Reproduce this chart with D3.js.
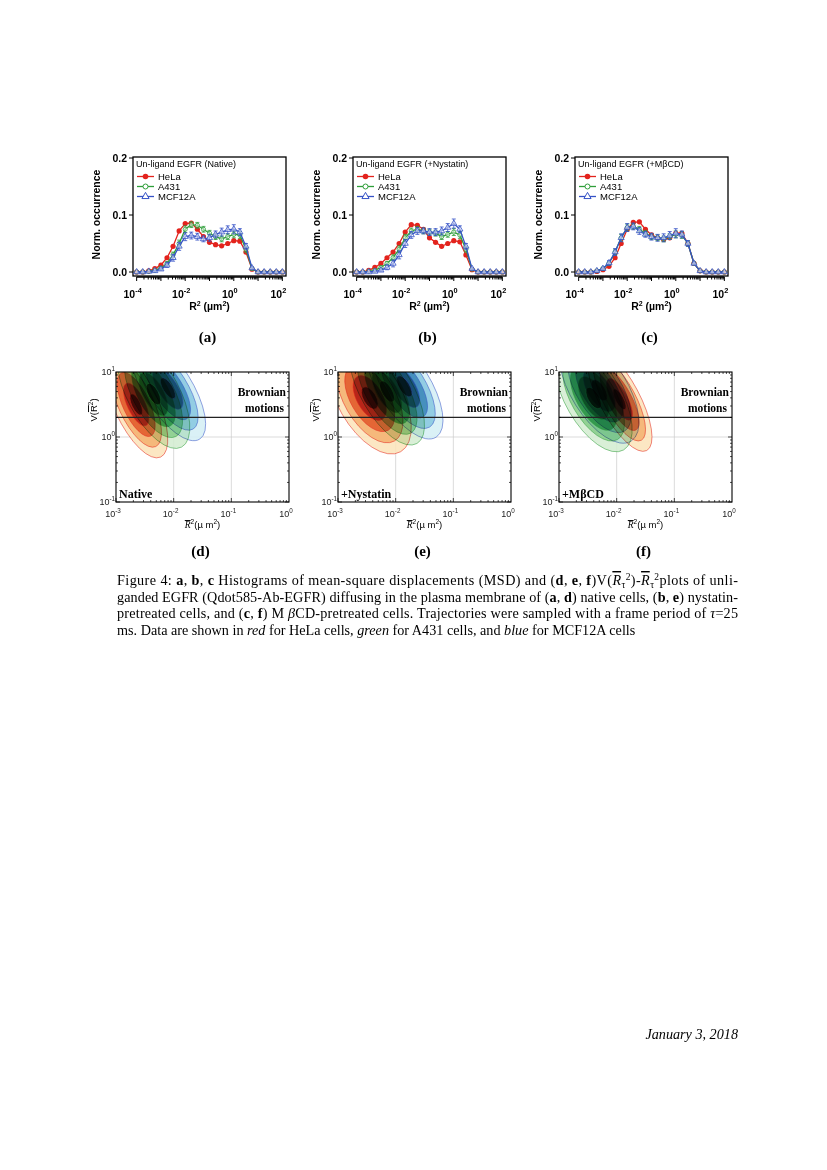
<!DOCTYPE html>
<html><head><meta charset="utf-8">
<script src="https://cdn.jsdelivr.net/npm/d3@7"></script>
<style>body{margin:0;background:#fff}svg{display:block}</style>
</head><body>
<svg id="fig" width="827" height="1170"></svg>
<script>
// histogram bins: log10(R^2) from -4 to 2, step 0.25
var logBins = d3.range(25).map(function (i) { return -4 + i * 0.25; });
var panelTitles = ["Un-ligand EGFR (Native)", "Un-ligand EGFR (+Nystatin)", "Un-ligand EGFR (+M\u03B2CD)"];
var cellLines = ["HeLa", "A431", "MCF12A"];
var helaHist = [
  [0,0,0.002,0.006,0.012,0.025,0.045,0.072,0.085,0.086,0.075,0.062,0.052,0.048,0.046,0.05,0.055,0.054,0.035,0.005,0,0,0,0,0],
  [0,0,0.003,0.008,0.015,0.025,0.035,0.05,0.07,0.083,0.082,0.075,0.06,0.052,0.045,0.05,0.055,0.053,0.03,0.004,0,0,0,0,0],
  [0,0,0,0.001,0.004,0.01,0.025,0.05,0.075,0.087,0.088,0.075,0.065,0.06,0.057,0.06,0.068,0.068,0.05,0.015,0.002,0,0,0,0]];
var a431Hist = [
  [0,0,0.001,0.003,0.007,0.015,0.03,0.05,0.075,0.083,0.082,0.075,0.068,0.062,0.058,0.062,0.066,0.065,0.04,0.006,0,0,0,0,0],
  [0,0,0.001,0.003,0.008,0.015,0.025,0.04,0.06,0.072,0.075,0.072,0.07,0.068,0.062,0.066,0.07,0.065,0.04,0.005,0,0,0,0,0],
  [0,0,0,0.002,0.006,0.015,0.035,0.06,0.078,0.08,0.075,0.068,0.062,0.06,0.058,0.062,0.066,0.065,0.05,0.015,0.002,0,0,0,0]];
var mcfHist = [
  [0,0,0.001,0.002,0.005,0.012,0.025,0.045,0.062,0.064,0.062,0.058,0.06,0.066,0.07,0.074,0.075,0.07,0.045,0.007,0,0,0,0,0],
  [0,0,0,0.001,0.003,0.008,0.015,0.03,0.05,0.065,0.072,0.072,0.07,0.07,0.072,0.078,0.085,0.075,0.045,0.006,0,0,0,0,0],
  [0,0,0,0.002,0.006,0.016,0.035,0.06,0.078,0.08,0.072,0.066,0.062,0.06,0.06,0.064,0.068,0.066,0.05,0.015,0.002,0,0,0,0]];
var errA431 = [0,0,0,0.001,0.002,0.003,0.005,0.006,0.006,0.005,0.005,0.005,0.005,0.005,0.005,0.005,0.006,0.006,0.005,0.002,0,0,0,0,0];
var errMcf  = [0,0,0,0.001,0.002,0.004,0.006,0.007,0.007,0.006,0.006,0.005,0.006,0.006,0.007,0.007,0.008,0.006,0.005,0.002,0,0,0,0,0];
var yTicks = [0, 0.1, 0.2];
var xDecadesTop = [-4, -2, 0, 2];
var histLetters = ["(a)", "(b)", "(c)"];

// density blobs: [log10 mean R^2, log10 V, major px, minor px, angle deg]
var scatterNames = ["Native", "+Nystatin", "+M\u03B2CD"];
var scatterLetters = ["(d)", "(e)", "(f)"];
var helaBlobs = [[-2.65, 0.5, 58, 22, 65], [-2.45, 0.6, 62, 32, 60], [-1.95, 0.58, 58, 20, 62]];
var a431Blobs = [[-2.35, 0.66, 60, 26, 62], [-2.15, 0.7, 60, 26, 60], [-2.4, 0.6, 60, 28, 60]];
var mcfBlobs  = [[-2.1, 0.75, 60, 24, 58], [-1.85, 0.78, 60, 26, 58], [-2.3, 0.72, 60, 28, 58]];
var brownianV = 2;

var colors = { HeLa: "#e3231d", A431: "#2f9e3a", MCF12A: "#3552c6" };
var fills = {
  HeLa: ["#fbe3b8", "#f4b070", "#e2582a", "#b01a14", "#3a0505"],
  A431: ["#d2ecd0", "#86cc8a", "#2e9a48", "#0f5a25", "#041a08"],
  MCF12A: ["#d3eff5", "#86c8e0", "#3a86b8", "#134a7e", "#05152a"]
};
var levelScale = [1, 0.8, 0.6, 0.4, 0.2];

var svg = d3.select("#fig");
var sans = "Liberation Sans, Arial, sans-serif", serif = "Liberation Serif, Times New Roman, serif";

function powLabel(sel, exp, size) {
  sel.append("tspan").text("10");
  sel.append("tspan").attr("font-size", size * 0.7).attr("dy", -size * 0.45).text(exp);
}

////////////// Top histograms //////////////
var topX = [133, 353, 575], topW = 153, topY0 = 157, topY1 = 272;
topX.forEach(function (px, p) {
  var g = svg.append("g");
  var x = d3.scaleLinear().domain([-4.15, 2.15]).range([px, px + topW]);
  var y = d3.scaleLinear().domain([0, 0.2]).range([topY1, topY0 + 1]);
  g.append("rect").attr("x", px).attr("y", topY0).attr("width", topW).attr("height", topY1 + 4 - topY0)
    .attr("fill", "none").attr("stroke", "#000").attr("stroke-width", 1.3);
  var xa = topY1 + 5;
  g.append("line").attr("x1", x(-4)).attr("x2", x(2)).attr("y1", xa).attr("y2", xa).attr("stroke", "#000").attr("stroke-width", 1.3);
  d3.range(-4, 2).forEach(function (d) {
    d3.range(1, 10).forEach(function (m) {
      var lx = x(d + Math.log10(m));
      g.append("line").attr("x1", lx).attr("x2", lx).attr("y1", xa).attr("y2", xa + (m === 1 ? 4 : 2.5)).attr("stroke", "#000");
    });
  });
  g.append("line").attr("x1", x(2)).attr("x2", x(2)).attr("y1", xa).attr("y2", xa + 4).attr("stroke", "#000");
  xDecadesTop.forEach(function (d) {
    var t = g.append("text").attr("x", x(d) - 4).attr("y", xa + 21).attr("text-anchor", "middle")
      .attr("font-family", sans).attr("font-weight", "bold").attr("font-size", 10.5);
    powLabel(t, d, 10.5);
  });
  var xl = g.append("text").attr("x", px + topW / 2).attr("y", 310).attr("text-anchor", "middle")
    .attr("font-family", sans).attr("font-weight", "bold").attr("font-size", 10.5);
  xl.append("tspan").text("R");
  xl.append("tspan").attr("font-size", 7).attr("dy", -4).text("2");
  xl.append("tspan").attr("dy", 4).text(" (\u00B5m");
  xl.append("tspan").attr("font-size", 7).attr("dy", -4).text("2");
  xl.append("tspan").attr("dy", 4).text(")");
  yTicks.forEach(function (v) {
    g.append("line").attr("x1", px - 4).attr("x2", px).attr("y1", y(v)).attr("y2", y(v)).attr("stroke", "#000");
    g.append("text").attr("x", px - 6).attr("y", y(v) + 3.5).attr("text-anchor", "end")
      .attr("font-family", sans).attr("font-weight", "bold").attr("font-size", 10.5).text(v.toFixed(1));
  });
  g.append("text").attr("transform", "translate(" + (px - 33) + "," + ((topY0 + topY1) / 2) + ") rotate(-90)")
    .attr("text-anchor", "middle").attr("font-family", sans).attr("font-weight", "bold").attr("font-size", 10.5)
    .text("Norm. occurrence");

  var series = [
    { name: "HeLa", vals: helaHist[p], err: null },
    { name: "A431", vals: a431Hist[p], err: errA431 },
    { name: "MCF12A", vals: mcfHist[p], err: errMcf }
  ];
  var line = d3.line().x(function (d, i) { return x(logBins[i]); }).y(function (d) { return y(d); });
  series.forEach(function (s) {
    var c = colors[s.name];
    g.append("path").attr("d", line(s.vals)).attr("fill", "none").attr("stroke", c).attr("stroke-width", 1.3);
    if (s.err) s.vals.forEach(function (v, i) {
      var e = s.err[i]; if (!e) return;
      var cx = x(logBins[i]);
      g.append("path").attr("d", "M" + cx + "," + y(v - e) + "V" + y(v + e) + "M" + (cx - 2) + "," + y(v + e) + "h4M" + (cx - 2) + "," + y(v - e) + "h4")
        .attr("stroke", c).attr("stroke-width", 0.8).attr("fill", "none");
    });
    s.vals.forEach(function (v, i) {
      var cx = x(logBins[i]), cy = y(v);
      if (s.name === "HeLa") g.append("circle").attr("cx", cx).attr("cy", cy).attr("r", 2.6).attr("fill", c);
      else if (s.name === "A431") g.append("circle").attr("cx", cx).attr("cy", cy).attr("r", 2.1).attr("fill", "#fff").attr("fill-opacity", 0.5).attr("stroke", c).attr("stroke-width", 0.8);
      else g.append("path").attr("d", d3.symbol(d3.symbolTriangle, 16)()).attr("transform", "translate(" + cx + "," + cy + ")")
        .attr("fill", "#fff").attr("fill-opacity", 0.5).attr("stroke", c).attr("stroke-width", 0.8);
    });
  });
  // legend
  g.append("text").attr("x", px + 3).attr("y", topY0 + 10).attr("font-family", sans).attr("font-size", 9).text(panelTitles[p]);
  cellLines.forEach(function (n, i) {
    var ly = topY0 + 19.5 + i * 10, c = colors[n];
    g.append("line").attr("x1", px + 4).attr("x2", px + 21).attr("y1", ly).attr("y2", ly).attr("stroke", c).attr("stroke-width", 1.3);
    if (i === 0) g.append("circle").attr("cx", px + 12.5).attr("cy", ly).attr("r", 2.8).attr("fill", c);
    else if (i === 1) g.append("circle").attr("cx", px + 12.5).attr("cy", ly).attr("r", 2.5).attr("fill", "#fff").attr("stroke", c);
    else g.append("path").attr("d", d3.symbol(d3.symbolTriangle, 22)()).attr("transform", "translate(" + (px + 12.5) + "," + ly + ")").attr("fill", "#fff").attr("stroke", c);
    g.append("text").attr("x", px + 25).attr("y", ly + 3.3).attr("font-family", sans).attr("font-size", 9.5).text(n);
  });
  g.append("text").attr("x", px + topW / 2 - 2).attr("y", 342).attr("text-anchor", "middle")
    .attr("font-family", serif).attr("font-weight", "bold").attr("font-size", 15).text(histLetters[p]);
});

////////////// Bottom density plots //////////////
var botX = [116, 338, 559], botW = 173, botY0 = 372, botY1 = 502;
var defs = svg.append("defs");
botX.forEach(function (px, p) {
  var g = svg.append("g");
  var x = d3.scaleLinear().domain([-3, 0]).range([px, px + botW]);
  var y = d3.scaleLinear().domain([-1, 1]).range([botY1, botY0]);
  defs.append("clipPath").attr("id", "clip" + p).append("rect")
    .attr("x", px).attr("y", botY0).attr("width", botW).attr("height", botY1 - botY0);
  [-2, -1].forEach(function (d) {
    g.append("line").attr("x1", x(d)).attr("x2", x(d)).attr("y1", botY0).attr("y2", botY1).attr("stroke", "#ccc").attr("stroke-width", 0.7);
  });
  g.append("line").attr("x1", px).attr("x2", px + botW).attr("y1", y(0)).attr("y2", y(0)).attr("stroke", "#ccc").attr("stroke-width", 0.7);

  var blobs = g.append("g").attr("clip-path", "url(#clip" + p + ")").style("isolation", "isolate");
  [["HeLa", helaBlobs[p]], ["A431", a431Blobs[p]], ["MCF12A", mcfBlobs[p]]].forEach(function (b) {
    var name = b[0], bl = b[1];
    var bg = blobs.append("g").style("mix-blend-mode", "multiply")
      .attr("transform", "translate(" + x(bl[0]) + "," + y(bl[1]) + ") rotate(" + bl[4] + ")");
    levelScale.forEach(function (s, li) {
      bg.append("ellipse").attr("rx", bl[2] * s).attr("ry", bl[3] * s)
        .attr("fill", fills[name][li]).attr("fill-opacity", 0.85)
        .attr("stroke", colors[name]).attr("stroke-width", 0.6).attr("stroke-opacity", 0.8);
    });
  });

  g.append("line").attr("x1", px).attr("x2", px + botW).attr("y1", y(Math.log10(brownianV))).attr("y2", y(Math.log10(brownianV)))
    .attr("stroke", "#222").attr("stroke-width", 1.2);
  g.append("text").attr("x", px + botW - 3).attr("y", 396).attr("text-anchor", "end").attr("font-family", serif)
    .attr("font-weight", "bold").attr("font-size", 11.5).text("Brownian");
  g.append("text").attr("x", px + botW - 5).attr("y", 412).attr("text-anchor", "end").attr("font-family", serif)
    .attr("font-weight", "bold").attr("font-size", 11.5).text("motions");
  g.append("text").attr("x", px + 3).attr("y", botY1 - 4).attr("font-family", serif)
    .attr("font-weight", "bold").attr("font-size", 12).text(scatterNames[p]);

  g.append("rect").attr("x", px).attr("y", botY0).attr("width", botW).attr("height", botY1 - botY0)
    .attr("fill", "none").attr("stroke", "#000").attr("stroke-width", 1.1);
  d3.range(-3, 0).forEach(function (d) {
    d3.range(1, 10).forEach(function (m) {
      var lx = x(d + Math.log10(m)), len = m === 1 ? 4 : 2;
      g.append("line").attr("x1", lx).attr("x2", lx).attr("y1", botY0).attr("y2", botY0 + len).attr("stroke", "#000").attr("stroke-width", 0.7);
      g.append("line").attr("x1", lx).attr("x2", lx).attr("y1", botY1).attr("y2", botY1 - len).attr("stroke", "#000").attr("stroke-width", 0.7);
    });
  });
  d3.range(-1, 1).forEach(function (d) {
    d3.range(1, 10).forEach(function (m) {
      var ly = y(d + Math.log10(m)), len = m === 1 ? 4 : 2;
      g.append("line").attr("x1", px + botW).attr("x2", px + botW - len).attr("y1", ly).attr("y2", ly).attr("stroke", "#000").attr("stroke-width", 0.7);
      g.append("line").attr("x1", px).attr("x2", px + len).attr("y1", ly).attr("y2", ly).attr("stroke", "#000").attr("stroke-width", 0.7);
    });
  });
  [-3, -2, -1, 0].forEach(function (d) {
    var t = g.append("text").attr("x", x(d) - 3).attr("y", botY1 + 15).attr("text-anchor", "middle")
      .attr("font-family", sans).attr("font-size", 9).attr("fill", "#222");
    powLabel(t, d, 9);
  });
  [-1, 0, 1].forEach(function (d) {
    var t = g.append("text").attr("x", px - 1).attr("y", y(d) + 3).attr("text-anchor", "end")
      .attr("font-family", sans).attr("font-size", 9).attr("fill", "#222");
    powLabel(t, d, 9);
  });
  var yl = g.append("text").attr("transform", "translate(" + (px - 19) + "," + (botY0 + 38) + ") rotate(-90)")
    .attr("text-anchor", "middle").attr("font-family", sans).attr("font-size", 9.5);
  yl.append("tspan").text("V(");
  yl.append("tspan").style("text-decoration", "overline").text("R");
  yl.append("tspan").attr("font-size", 6.5).attr("dy", -4).text("2");
  yl.append("tspan").attr("dy", 4).text(")");
  var xl = g.append("text").attr("x", px + botW / 2).attr("y", botY1 + 26).attr("text-anchor", "middle")
    .attr("font-family", sans).attr("font-size", 9.5);
  xl.append("tspan").attr("font-family", serif).attr("font-style", "italic").style("text-decoration", "overline").text("R");
  xl.append("tspan").attr("font-size", 6.5).attr("dy", -4).text("2");
  xl.append("tspan").attr("dy", 4).text("(\u00B5 m");
  xl.append("tspan").attr("font-size", 6.5).attr("dy", -4).text("2");
  xl.append("tspan").attr("dy", 4).text(")");
  g.append("text").attr("x", px + botW / 2 - 2).attr("y", 556).attr("text-anchor", "middle")
    .attr("font-family", serif).attr("font-weight", "bold").attr("font-size", 15).text(scatterLetters[p]);
});

////////////// Caption //////////////
var B = "b", I = "i", S = "sub", P = "sup";
var captionLines = [
  [["Figure 4: "], ["a", B], [", "], ["b", B], [", "], ["c", B], [" Histograms of mean-square displacements (MSD) and ("], ["d", B], [", "], ["e", B], [", "], ["f", B], [")V("], ["R", "oi"], ["\u03C4", S], ["2", P], [")-"], ["R", "oi"], ["\u03C4", S], ["2", P], ["plots of unli-"]],
  [["ganded EGFR (Qdot585-Ab-EGFR) diffusing in the plasma membrane of ("], ["a", B], [", "], ["d", B], [") native cells, ("], ["b", B], [", "], ["e", B], [") nystatin-"]],
  [["pretreated cells, and ("], ["c", B], [", "], ["f", B], [") M "], ["\u03B2", I], ["CD-pretreated cells. Trajectories were sampled with a frame period of "], ["\u03C4", I], ["=25"]],
  [["ms. Data are shown in "], ["red", I], [" for HeLa cells, "], ["green", I], [" for A431 cells, and "], ["blue", I], [" for MCF12A cells"]]
];
captionLines.forEach(function (parts, li) {
  var t = svg.append("text").attr("x", 117).attr("y", 585 + li * 16.7).attr("font-family", serif).attr("font-size", 14.2);
  if (li < 3) t.attr("textLength", 621).attr("lengthAdjust", "spacing");
  var shift = 0;
  parts.forEach(function (pt) {
    var ts = t.append("tspan").text(pt[0]), st = pt[1] || "";
    if (st === B) ts.attr("font-weight", "bold");
    if (st === I) ts.attr("font-style", "italic");
    if (st === "oi") ts.attr("font-style", "italic").style("text-decoration", "overline");
    var target = st === S ? 3 : st === P ? -5 : 0;
    if (st === S || st === P) ts.attr("font-size", 9.5);
    if (target !== shift) { ts.attr("dy", target - shift); shift = target; }
  });
});
svg.append("text").attr("x", 738).attr("y", 1039).attr("text-anchor", "end").attr("font-family", serif)
  .attr("font-style", "italic").attr("font-size", 14.2).text("January 3, 2018");
</script>
</body></html>
